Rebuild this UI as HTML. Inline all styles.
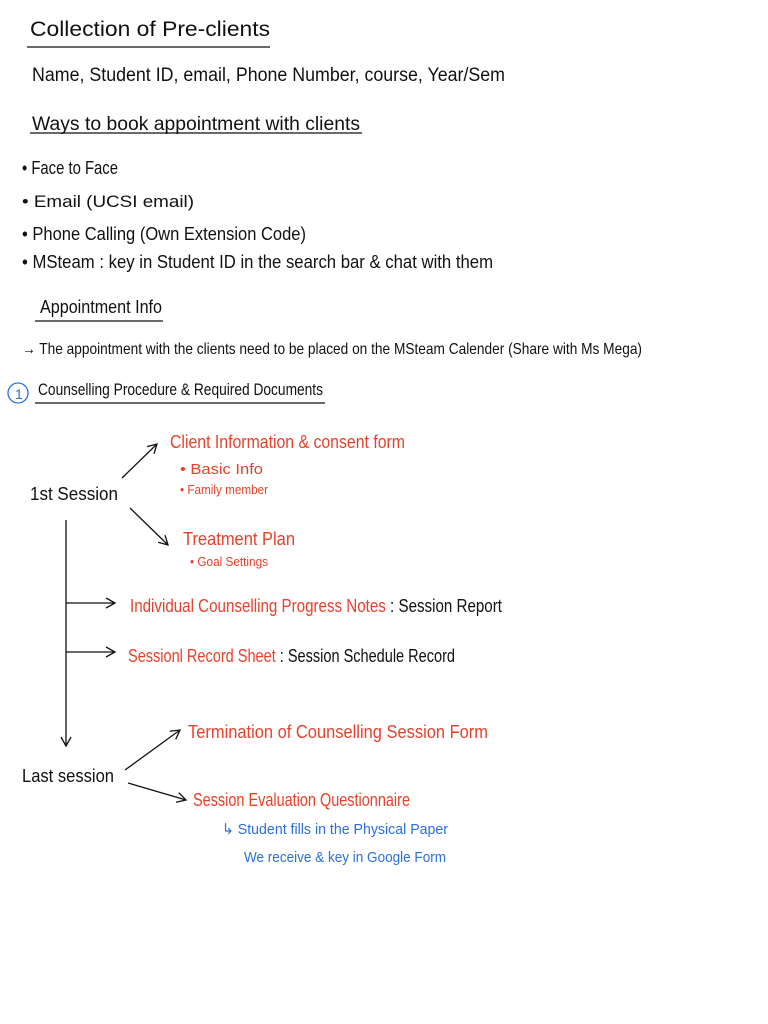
<!DOCTYPE html>
<html><head><meta charset="utf-8"><style>
html,body{margin:0;padding:0;background:#fff;}
svg{display:block;}
text{font-family:"Liberation Sans",sans-serif;fill:#111;}
.r{fill:#e8412c;} .b{fill:#2a6fe0;}
</style></head><body>
<svg width="768" height="1024" viewBox="0 0 768 1024" xmlns="http://www.w3.org/2000/svg">
<defs>
<marker id="ah" markerWidth="12" markerHeight="12" refX="10" refY="6" orient="auto" markerUnits="userSpaceOnUse">
<path d="M1,1 L10,6 L1,11" fill="none" stroke="#111" stroke-width="1.3"/>
</marker>
</defs>
<g stroke="#111" stroke-width="1.3" fill="none">
<line x1="27" y1="47" x2="270" y2="47"/>
<line x1="30" y1="133" x2="362" y2="133"/>
<line x1="35" y1="321" x2="163" y2="321"/>
<line x1="35" y1="403" x2="325" y2="403"/>
<line x1="122" y1="478" x2="157" y2="444" marker-end="url(#ah)"/>
<line x1="130" y1="508" x2="168" y2="545" marker-end="url(#ah)"/>
<line x1="66" y1="520" x2="66" y2="746" marker-end="url(#ah)"/>
<line x1="66" y1="603" x2="115" y2="603" marker-end="url(#ah)"/>
<line x1="66" y1="652" x2="115" y2="652" marker-end="url(#ah)"/>
<line x1="125" y1="770" x2="180" y2="730" marker-end="url(#ah)"/>
<line x1="128" y1="783" x2="186" y2="800" marker-end="url(#ah)"/>
</g>
<circle cx="18" cy="393" r="10" fill="none" stroke="#2a6fe0" stroke-width="1.3"/>
<text x="15" y="399" font-size="14" class="b">1</text>

<text x="30" y="36" font-size="21" textLength="240" lengthAdjust="spacingAndGlyphs">Collection of Pre-clients</text>
<text x="32" y="81" font-size="19" textLength="473" lengthAdjust="spacingAndGlyphs">Name, Student ID, email, Phone Number, course, Year/Sem</text>
<text x="32" y="130" font-size="19" textLength="328" lengthAdjust="spacingAndGlyphs">Ways to book appointment with clients</text>
<text x="22" y="174" font-size="18" textLength="96" lengthAdjust="spacingAndGlyphs">• Face to Face</text>
<text x="22" y="207" font-size="17" textLength="172" lengthAdjust="spacingAndGlyphs">• Email (UCSI email)</text>
<text x="22" y="240" font-size="18" textLength="284" lengthAdjust="spacingAndGlyphs">• Phone Calling (Own Extension Code)</text>
<text x="22" y="268" font-size="18" textLength="471" lengthAdjust="spacingAndGlyphs">• MSteam : key in Student ID in the search bar &amp; chat with them</text>
<text x="40" y="313" font-size="18" textLength="122" lengthAdjust="spacingAndGlyphs">Appointment Info</text>
<text x="22" y="354" font-size="16" textLength="620" lengthAdjust="spacingAndGlyphs">→ The appointment with the clients need to be placed on the MSteam Calender (Share with Ms Mega)</text>
<text x="38" y="395" font-size="17" textLength="285" lengthAdjust="spacingAndGlyphs">Counselling Procedure &amp; Required Documents</text>

<text x="30" y="500" font-size="18" textLength="88" lengthAdjust="spacingAndGlyphs">1st Session</text>
<text x="170" y="448" font-size="18" class="r" textLength="235" lengthAdjust="spacingAndGlyphs">Client Information &amp; consent form</text>
<text x="180" y="474" font-size="15" class="r" textLength="83" lengthAdjust="spacingAndGlyphs">• Basic Info</text>
<text x="180" y="494" font-size="13" class="r" textLength="88" lengthAdjust="spacingAndGlyphs">• Family member</text>
<text x="183" y="545" font-size="18" class="r" textLength="112" lengthAdjust="spacingAndGlyphs">Treatment Plan</text>
<text x="190" y="566" font-size="13" class="r" textLength="78" lengthAdjust="spacingAndGlyphs">• Goal Settings</text>

<text x="130" y="612" font-size="18" textLength="372" lengthAdjust="spacingAndGlyphs"><tspan class="r">Individual Counselling Progress Notes</tspan> : Session Report</text>
<text x="128" y="662" font-size="18" textLength="327" lengthAdjust="spacingAndGlyphs"><tspan class="r">Sessionl Record Sheet</tspan> : Session Schedule Record</text>

<text x="22" y="782" font-size="18" textLength="92" lengthAdjust="spacingAndGlyphs">Last session</text>
<text x="188" y="738" font-size="18" class="r" textLength="300" lengthAdjust="spacingAndGlyphs">Termination of Counselling Session Form</text>
<text x="193" y="806" font-size="18" class="r" textLength="217" lengthAdjust="spacingAndGlyphs">Session Evaluation Questionnaire</text>
<text x="222" y="834" font-size="15" class="b" textLength="226" lengthAdjust="spacingAndGlyphs">↳ Student fills in the Physical Paper</text>
<text x="244" y="862" font-size="15" class="b" textLength="202" lengthAdjust="spacingAndGlyphs">We receive &amp; key in Google Form</text>
</svg>
</body></html>
